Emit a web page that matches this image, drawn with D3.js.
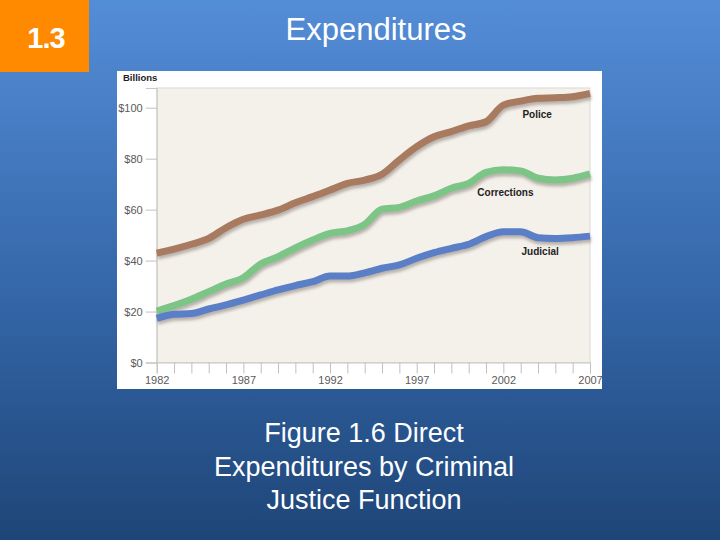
<!DOCTYPE html>
<html>
<head>
<meta charset="utf-8">
<script src="https://cdn.jsdelivr.net/npm/d3@7"></script>
<style>
  body { margin: 0; }
  svg { display: block; }
</style>
</head>
<body>
<div id="chart"></div>
<script>
const years = d3.range(1982, 2008);
const police = [42.9, 44.5, 46.4, 48.7, 52.9, 56.2, 57.9, 59.8, 62.7, 65.1, 67.7, 70.3, 71.6,
  73.9, 79.5, 84.7, 88.6, 90.6, 92.9, 94.5, 101.0, 102.6, 103.7, 103.9, 104.3, 105.6];
const corrections = [20.2, 22.3, 24.8, 27.8, 30.8, 33.3, 38.7, 41.5, 45.0, 48.1, 50.7, 51.7, 54.2,
  60.2, 60.9, 63.4, 65.4, 68.4, 70.3, 74.6, 75.6, 75.2, 72.3, 71.6, 72.3, 74.0];
const judicial = [17.3, 18.9, 19.2, 21.0, 22.6, 24.5, 26.5, 28.5, 30.2, 31.7, 33.9, 33.9, 35.2,
  37.0, 38.3, 40.9, 43.1, 44.8, 46.4, 49.4, 51.3, 51.3, 49.0, 48.7, 49.0, 49.6];
const yTicks = [0, 20, 40, 60, 80, 100];
const xLabelYears = [1982, 1987, 1992, 1997, 2002, 2007];
const seriesNames = ['Police', 'Corrections', 'Judicial'];
// where each series name sits, in data units (year, billions)
const labelYears = [2003.1, 2000.5, 2003.05];
const labelValues = [96, 65.3, 42.2];

const colors = ['#a87a5e', '#7cc587', '#5a7fc6'];
const seriesValues = [police, corrections, judicial];

const width = 720;
const height = 540;
const plot = { left: 156.7, right: 590, top: 88, bottom: 362.5 };

const svg = d3.select('#chart')
  .append('svg')
  .attr('width', width)
  .attr('height', height);

const defs = svg.append('defs');
const grad = defs.append('linearGradient')
  .attr('id', 'bg')
  .attr('x1', 0).attr('y1', 0)
  .attr('x2', 0).attr('y2', 1);
grad.append('stop').attr('offset', '0%').attr('stop-color', '#548dd7');
grad.append('stop').attr('offset', '55%').attr('stop-color', '#3466a8');
grad.append('stop').attr('offset', '100%').attr('stop-color', '#1e4577');

const shadow = defs.append('filter')
  .attr('id', 'shadow')
  .attr('x', '-5%').attr('y', '-20%')
  .attr('width', '110%').attr('height', '140%');
shadow.append('feDropShadow')
  .attr('dx', 1).attr('dy', 3)
  .attr('stdDeviation', 1.6)
  .attr('flood-color', '#6d665e')
  .attr('flood-opacity', 0.45);

// slide background
svg.append('rect')
  .attr('width', width).attr('height', height)
  .attr('fill', 'url(#bg)');

svg.append('rect')
  .attr('x', 0).attr('y', 0)
  .attr('width', 89).attr('height', 72)
  .attr('fill', '#ff8a00');

svg.append('text')
  .attr('x', 46).attr('y', 48)
  .attr('text-anchor', 'middle')
  .style('font-family', '"Liberation Sans", Arial, sans-serif')
  .style('font-size', '29px')
  .style('font-weight', '700')
  .style('letter-spacing', '-1px')
  .style('fill', '#ffffff')
  .text('1.3');

svg.append('text')
  .attr('x', 376).attr('y', 40)
  .attr('text-anchor', 'middle')
  .style('font-family', '"Liberation Sans", Arial, sans-serif')
  .style('font-size', '31px')
  .style('fill', '#ffffff')
  .text('Expenditures');

const caption = ['Figure 1.6 Direct', 'Expenditures by Criminal', 'Justice Function'];
svg.append('g')
  .selectAll('text')
  .data(caption)
  .enter()
  .append('text')
  .attr('x', 364)
  .attr('y', (d, i) => 442 + i * 33.5)
  .attr('text-anchor', 'middle')
  .style('font-family', '"Liberation Sans", Arial, sans-serif')
  .style('font-size', '27px')
  .style('fill', '#ffffff')
  .text(d => d);

// white chart panel
svg.append('rect')
  .attr('x', 117).attr('y', 71)
  .attr('width', 485).attr('height', 318)
  .attr('fill', '#ffffff');

svg.append('text')
  .attr('x', 123).attr('y', 81)
  .style('font-family', '"Liberation Sans", Arial, sans-serif')
  .style('font-size', '9.5px')
  .style('font-weight', '700')
  .style('fill', '#222')
  .text('Billions');

const x = d3.scaleLinear()
  .domain([1982, 2007])
  .range([plot.left, plot.right]);

const y = d3.scaleLinear()
  .domain([0, (plot.bottom - plot.top) / 2.548])
  .range([plot.bottom, plot.top]);

svg.append('rect')
  .attr('x', plot.left).attr('y', plot.top)
  .attr('width', plot.right - plot.left)
  .attr('height', plot.bottom - plot.top)
  .attr('fill', '#f4f0ea')
  .attr('stroke', '#dcd8d2')
  .attr('stroke-width', 1);

// Create axis
const yAxis = d3.axisLeft(y)
  .tickValues(yTicks)
  .tickSize(11)
  .tickPadding(3)
  .tickFormat(d => '$' + d);

const yG = svg.append('g')
  .attr('transform', `translate(${plot.left}, 0)`)
  .call(yAxis);
yG.select('path').attr('stroke', '#c8c8c8');
yG.selectAll('.tick line').attr('stroke', '#c0c0c0');
yG.selectAll('.tick text')
  .style('font-family', '"Liberation Sans", Arial, sans-serif')
  .style('font-size', '11px')
  .style('fill', '#5a5a5a');

const xAxis = d3.axisBottom(x)
  .tickValues(years)
  .tickSize(11)
  .tickPadding(3)
  .tickFormat(d => xLabelYears.includes(d) ? d : '');

const xG = svg.append('g')
  .attr('transform', `translate(0, ${plot.bottom})`)
  .call(xAxis);
xG.select('path').attr('stroke', '#c8c8c8');
xG.selectAll('.tick line').attr('stroke', '#c0c0c0');
xG.selectAll('.tick text')
  .style('font-family', '"Liberation Sans", Arial, sans-serif')
  .style('font-size', '11px')
  .style('fill', '#5a5a5a');

// lines
const line = d3.line()
  .x((d, i) => x(years[i]))
  .y(d => y(d))
  .curve(d3.curveMonotoneX);

svg.append('g')
  .selectAll('path')
  .data(seriesValues)
  .enter()
  .append('path')
  .attr('d', d => line(d))
  .attr('fill', 'none')
  .attr('stroke', (d, i) => colors[i])
  .attr('stroke-width', 7)
  .attr('stroke-linejoin', 'round')
  .attr('filter', 'url(#shadow)');

svg.append('g')
  .selectAll('text')
  .data(seriesNames)
  .enter()
  .append('text')
  .attr('x', (d, i) => x(labelYears[i]))
  .attr('y', (d, i) => y(labelValues[i]))
  .style('font-family', '"Liberation Sans", Arial, sans-serif')
  .style('font-size', '10px')
  .style('font-weight', '700')
  .style('fill', '#222')
  .text(d => d);
</script>
</body>
</html>
